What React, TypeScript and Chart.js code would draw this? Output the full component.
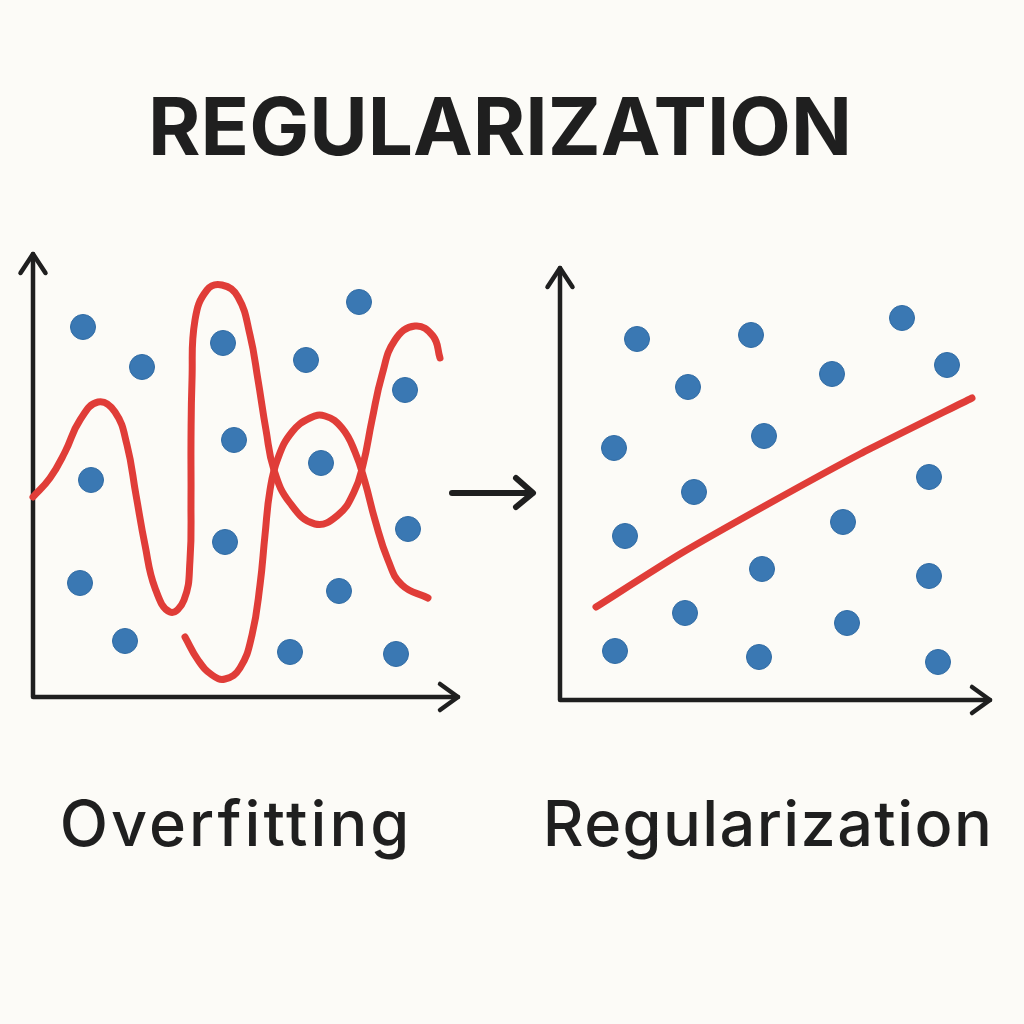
import React, { useEffect, useRef } from "react";
import { Chart, registerables } from "chart.js";

Chart.register(...registerables);

// ---------- data (abstract units, origin at the axis corner) ----------
const overfitPointsX = [50, 109, 190, 273, 326, 372, 58, 201, 288, 375, 192, 47, 306, 92, 257, 363];
const overfitPointsY = [370, 330, 354, 337, 395, 307, 217, 257, 234, 168, 155, 114, 106, 56, 45, 43];

const wiggleAX = [0, 17, 32, 47, 65, 82, 94, 103, 112, 122, 137, 151, 157, 158, 158, 159, 162, 174, 189, 205, 217, 225, 233, 241, 257, 282, 305, 321, 330, 339, 349, 362, 382, 400, 407];
const wiggleAY = [200, 219, 245, 277, 295, 285, 252, 202, 152, 109, 85, 97, 137, 197, 257, 317, 377, 407, 412, 400, 362, 317, 267, 227, 194, 173, 182, 205, 232, 277, 322, 357, 371, 361, 339];

const wiggleBX = [152, 165, 179, 192, 207, 219, 227, 232, 237, 245, 259, 277, 292, 309, 322, 332, 342, 355, 369, 395];
const wiggleBY = [60, 37, 22, 18, 29, 62, 112, 162, 207, 239, 265, 279, 281, 269, 245, 215, 177, 137, 112, 99];

const regPointsX = [77, 191, 342, 128, 272, 387, 54, 204, 369, 134, 283, 65, 202, 369, 125, 287, 55, 199, 378];
const regPointsY = [361, 365, 382, 313, 326, 335, 252, 264, 223, 208, 178, 164, 131, 124, 87, 77, 49, 43, 38];

const fitLineX = [36, 120, 210, 300, 412];
const fitLineY = [93, 146, 197, 246, 302];

const leftAxisMax = { x: 425, y: 443 };
const rightAxisMax = { x: 430, y: 432 };

const titleText = "REGULARIZATION";
const leftLabel = "Overfitting";
const rightLabel = "Regularization";

// ---------- styles ----------
const BG = "#fcfbf7";
const INK = "#1f1f1f";
const BLUE = "#3a78b3";
const BLUE_EDGE = "#2f6aa3";
const RED = "#e03d38";

const zip = (xs: number[], ys: number[]) => xs.map((x, i) => ({ x, y: ys[i] }));

const axesPlugin = {
  id: "arrowAxes",
  beforeDatasetsDraw(chart: any, _args: any, opts: any) {
    const { ctx, scales } = chart;
    const xs = scales.x;
    const ys = scales.y;
    const ox = xs.getPixelForValue(0);
    const oy = ys.getPixelForValue(0);
    const tx = xs.getPixelForValue(opts.xMax);
    const ty = ys.getPixelForValue(opts.yMax);
    ctx.save();
    ctx.strokeStyle = INK;
    ctx.lineWidth = 4.5;
    ctx.lineCap = "round";
    ctx.lineJoin = "round";
    ctx.beginPath();
    ctx.moveTo(ox, ty);
    ctx.lineTo(ox, oy);
    ctx.lineTo(tx, oy);
    ctx.stroke();
    ctx.beginPath();
    ctx.moveTo(ox - 12.5, ty + 19);
    ctx.lineTo(ox, ty);
    ctx.lineTo(ox + 12.5, ty + 19);
    ctx.stroke();
    ctx.beginPath();
    ctx.moveTo(tx - 18, oy - 13);
    ctx.lineTo(tx, oy);
    ctx.lineTo(tx - 18, oy + 13);
    ctx.stroke();
    ctx.restore();
  },
};

function Panel(props: {
  style: React.CSSProperties;
  width: number;
  height: number;
  padding: { left: number; right: number; top: number; bottom: number };
  axisMax: { x: number; y: number };
  points: { x: number; y: number }[];
  curves: { x: number; y: number }[][];
  tension: number;
}) {
  const ref = useRef<HTMLCanvasElement>(null);
  useEffect(() => {
    if (!ref.current) return;
    const datasets: any[] = props.curves.map((c) => ({
      type: "scatter",
      data: c,
      showLine: true,
      borderColor: RED,
      borderWidth: 7,
      borderCapStyle: "round",
      borderJoinStyle: "round",
      pointRadius: 0,
      tension: props.tension,
      clip: false,
      order: 2,
    }));
    datasets.push({
      type: "scatter",
      data: props.points,
      pointRadius: 12.5,
      pointHoverRadius: 12.5,
      backgroundColor: BLUE,
      borderColor: BLUE_EDGE,
      borderWidth: 1,
      clip: false,
      order: 1,
    });
    const chart = new Chart(ref.current, {
      type: "scatter",
      data: { datasets },
      options: {
        animation: false,
        responsive: false,
        events: [],
        layout: { padding: props.padding },
        plugins: {
          legend: { display: false },
          tooltip: { enabled: false },
          arrowAxes: { xMax: props.axisMax.x, yMax: props.axisMax.y },
        } as any,
        scales: {
          x: { type: "linear", min: 0, max: props.axisMax.x, display: false },
          y: { type: "linear", min: 0, max: props.axisMax.y, display: false },
        },
      },
      plugins: [axesPlugin],
    });
    return () => chart.destroy();
  }, []);
  return <canvas ref={ref} width={props.width} height={props.height} style={{ position: "absolute", ...props.style }} />;
}

export default function App() {
  return (
    <div
      style={{
        position: "fixed",
        left: 0,
        top: 0,
        width: 1024,
        height: 1024,
        background: BG,
        overflow: "hidden",
        fontFamily: "Inter, 'Noto Sans', sans-serif",
        color: INK,
      }}
    >
      <div
        style={{
          position: "absolute",
          left: 0,
          width: 1000,
          top: 86,
          textAlign: "center",
          fontSize: 80,
          lineHeight: 1,
          fontWeight: 700,
          letterSpacing: 0,
        }}
      >
        {titleText}
      </div>

      <Panel
        style={{ left: 0, top: 230 }}
        width={480}
        height={490}
        padding={{ left: 33, right: 22, top: 24, bottom: 23 }}
        axisMax={leftAxisMax}
        points={zip(overfitPointsX, overfitPointsY)}
        curves={[zip(wiggleAX, wiggleAY), zip(wiggleBX, wiggleBY)]}
        tension={0.45}
      />
      <Panel
        style={{ left: 530, top: 240 }}
        width={490}
        height={490}
        padding={{ left: 30, right: 30, top: 28, bottom: 30 }}
        axisMax={rightAxisMax}
        points={zip(regPointsX, regPointsY)}
        curves={[zip(fitLineX, fitLineY)]}
        tension={0.2}
      />

      <svg width={1024} height={1024} style={{ position: "absolute", left: 0, top: 0, pointerEvents: "none" }}>
        <g stroke={INK} strokeWidth={6} strokeLinecap="round" strokeLinejoin="round" fill="none">
          <line x1={452} y1={493} x2={532} y2={493} />
          <polyline points="516,478 533,493 516,507" />
        </g>
      </svg>

      <div
        style={{
          position: "absolute",
          left: 36,
          width: 400,
          top: 792,
          textAlign: "center",
          fontSize: 63,
          lineHeight: 1,
          fontWeight: 500,
          letterSpacing: 3,
        }}
      >
        {leftLabel}
      </div>
      <div
        style={{
          position: "absolute",
          left: 518,
          width: 500,
          top: 792,
          textAlign: "center",
          fontSize: 63,
          lineHeight: 1,
          fontWeight: 500,
          letterSpacing: 1.4,
        }}
      >
        {rightLabel}
      </div>
    </div>
  );
}
